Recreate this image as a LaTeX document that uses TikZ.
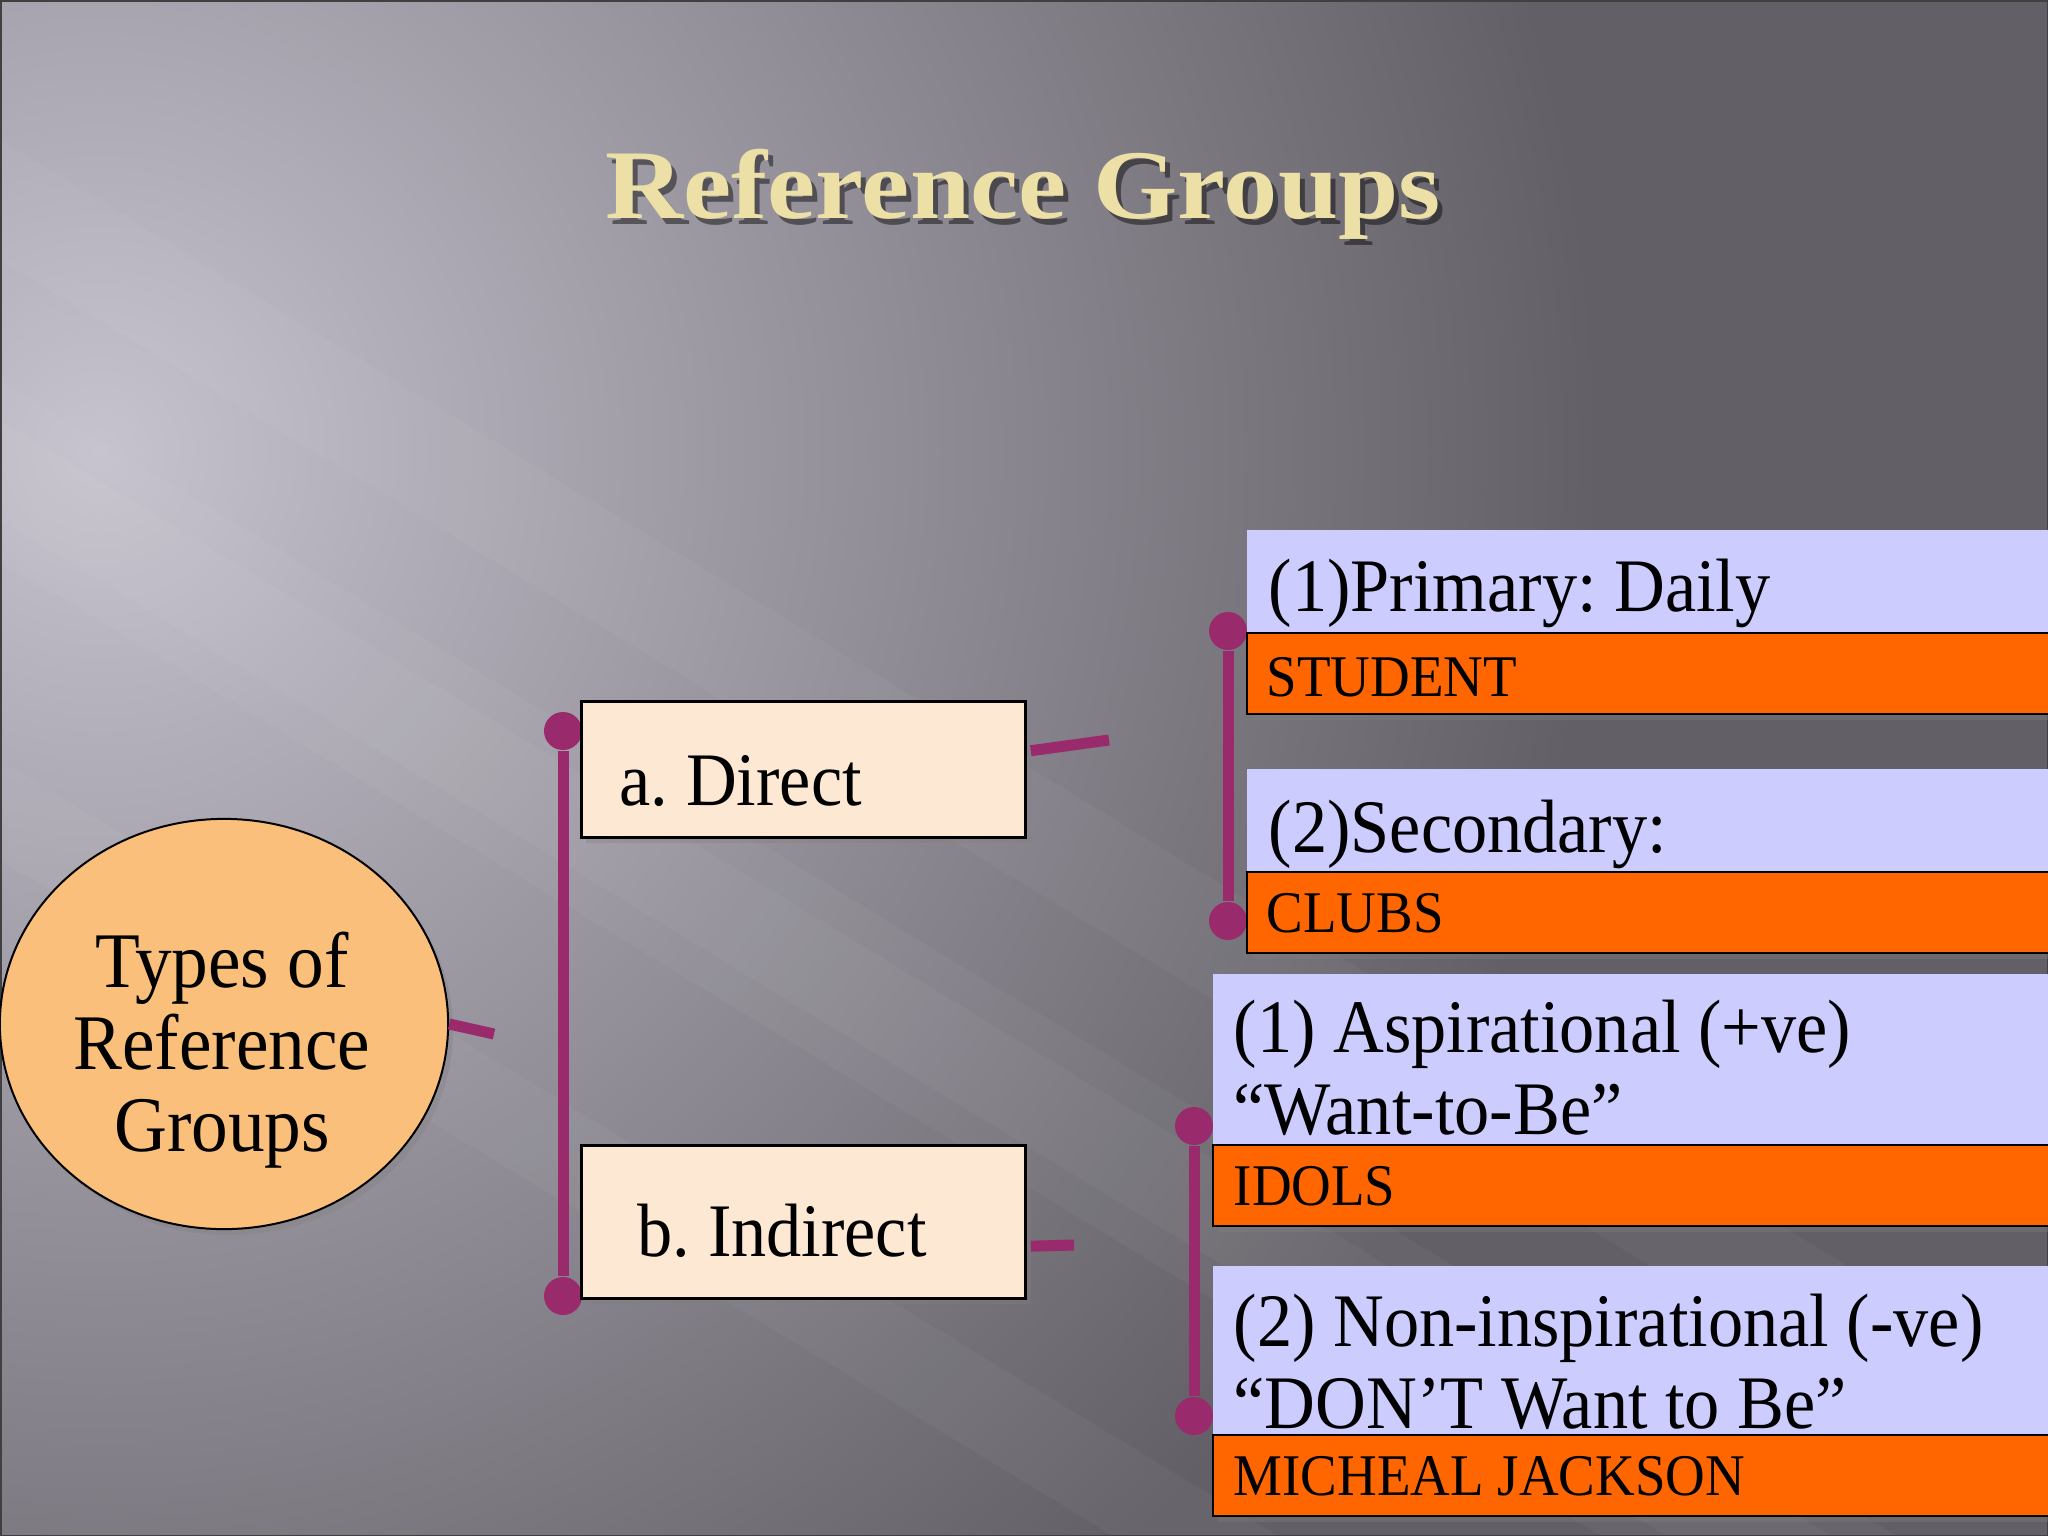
\documentclass[tikz,border=0pt]{standalone}
\usepackage{fontspec}
\setmainfont{Liberation Serif}[FakeStretch=0.93]
\newfontfamily\titlefont{Liberation Serif}[FakeStretch=1.1]
\usetikzlibrary{positioning,shapes.geometric,shadows}

\definecolor{bgl}{RGB}{198,194,206}
\definecolor{bgd}{RGB}{98,95,102}
\definecolor{plum}{RGB}{153,43,108}
\definecolor{peach}{RGB}{253,233,211}
\definecolor{lilac}{RGB}{204,204,255}
\definecolor{tang}{RGB}{255,102,0}
\definecolor{apricot}{RGB}{250,191,123}
\definecolor{straw}{RGB}{236,224,166}

\begin{document}
\frenchspacing
\begin{tikzpicture}[x=0.01cm, y=-0.01cm,
  big/.style={font=\fontsize{21.5}{23.2}\selectfont},
  small/.style={font=\fontsize{16.8}{18}\selectfont},
  txt/.style={big, inner sep=0pt, anchor=base west, align=left},
  tag/.style={small, inner sep=0pt, anchor=base west},
  dshadow/.style={drop shadow={shadow xshift=0.5mm, shadow yshift=-0.6mm, opacity=0.35}},
  catbox/.style={rectangle, draw=black, line width=0.25mm, fill=peach,
                 minimum width=4.44cm, anchor=north west, inner sep=0pt, dshadow},
  typebox/.style={rectangle, fill=lilac, minimum width=8.6cm, anchor=north west, inner sep=0pt},
  egbox/.style={rectangle, draw=black, line width=0.2mm, fill=tang, minimum width=8.6cm,
                minimum height=0.81cm, anchor=north west, inner sep=0pt, dshadow},
  dot/.style={circle, fill=plum, minimum size=3.8mm, inner sep=0pt},
  link/.style={draw=plum, line width=1.1mm},
  streak/.style={fill=white, opacity=0.035}
]
\useasboundingbox (0,0) rectangle (2048,1536);
\clip (0,0) rectangle (2048,1536);

% background
\fill[bgd] (0,0) rectangle (2048,1536);
\shade[inner color=bgl, outer color=bgd] (100,450) circle (1500);
\fill[streak] (0,380) -- (0,560) -- (2100,1840) -- (2100,1660) -- cycle;
\fill[streak] (0,420) -- (0,520) -- (2100,1800) -- (2100,1700) -- cycle;
\fill[streak] (0,760) -- (0,860) -- (1400,1710) -- (1400,1610) -- cycle;
\fill[streak] (0,140) -- (0,260) -- (2100,1540) -- (2100,1420) -- cycle;
\draw[black!75, line width=0.3mm] (0,0) rectangle (2048,1536);

% title
\node[font=\titlefont\bfseries\fontsize{28}{30}\selectfont, text=black, opacity=0.45, anchor=base] (titlesh) at (1028,224) {Reference Groups};
\node[font=\titlefont\bfseries\fontsize{28}{30}\selectfont, text=straw, anchor=base] (title) at (1023,218) {Reference Groups};

% brackets
\node[dot] (a1) at (563,731) {};
\node[dot] (a2) at (563,1296) {};
\node[dot] (b1) at (1228,631) {};
\node[dot] (b2) at (1228,921) {};
\node[dot] (c1) at (1194,1126) {};
\node[dot] (c2) at (1194,1416) {};
\draw[link] (a1) -- (a2);
\draw[link] (b1) -- (b2);
\draw[link] (c1) -- (c2);

% root
\node[ellipse, draw=black, line width=0.2mm, fill=apricot, minimum width=4.48cm,
      minimum height=4.1cm, inner sep=0pt, dshadow] (types) at (224,1024) {};
\node[font=\fontsize{22.4}{23.3}\selectfont, align=center, inner sep=0pt] (typest) at (222,1050) {Types of\\Reference\\Groups};
\coordinate (tend) at (494,1034);
\draw[link] (types.east) -- (tend);

% direct / indirect
\node[catbox, minimum height=1.36cm] (direct) at (580,700) {};
\node[catbox, minimum height=1.53cm] (indirect) at (580,1144) {};
\node[txt] (directt) at (619,805) {a. Direct};
\node[txt] (indirectt) at (637,1256) {b. Indirect};
\coordinate (dend) at (1109,740);
\coordinate (iend) at (1074,1245);
\draw[link, shorten <=0.4mm] ([yshift=1.8mm]direct.east) -- (dend);
\draw[link, shorten <=0.4mm] ([yshift=-2.45mm]indirect.east) -- (iend);

% direct kinds
\node[typebox, minimum height=1.03cm] (prim) at (1246,529) {};
\node[egbox] (stud) at (1246,632) {};
\node[typebox, minimum height=1.03cm] (sec) at (1246,768) {};
\node[egbox] (club) at (1246,871) {};
\node[txt] (primt) at (1268,611) {(1)Primary: Daily};
\node[tag] (studt) at (1266,696) {STUDENT};
\node[txt] (sect) at (1268,852) {(2)Secondary:};
\node[tag] (clubt) at (1266,932) {CLUBS};

% indirect kinds
\node[typebox, minimum height=1.71cm] (asp) at (1212,973) {};
\node[egbox] (idol) at (1212,1144) {};
\node[typebox, minimum height=1.69cm] (nonasp) at (1212,1265) {};
\node[egbox] (mj) at (1212,1434) {};
\node[txt] (aspt) at (1233,1134) {(1) Aspirational (+ve)\\“Want-to-Be”};
\node[tag] (idolt) at (1233,1205) {IDOLS};
\node[txt] (nonaspt) at (1233,1428) {(2) Non-inspirational (-ve)\\“DON’T Want to Be”};
\node[tag] (mjt) at (1233,1495) {MICHEAL JACKSON};
\end{tikzpicture}
\end{document}
